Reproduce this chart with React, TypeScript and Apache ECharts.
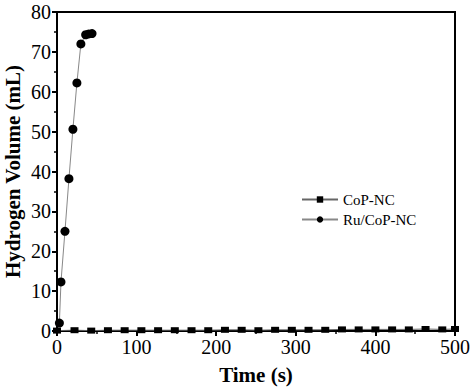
import React, { useEffect, useRef } from "react";
import * as echarts from "echarts";

const ruTime = [3, 5, 10, 15, 20, 25, 30, 36, 40, 44];
const ruVolume = [2.0, 12.3, 25.0, 38.2, 50.6, 62.2, 72.0, 74.3, 74.5, 74.6];

const copTime = [0, 22, 43, 64, 85, 106, 127, 148, 169, 190, 211, 232, 253, 274, 295, 316, 337, 358, 379, 400, 421, 442, 463, 484, 500];
const copVolume = [0.1, 0.2, 0.1, 0.2, 0.2, 0.2, 0.2, 0.2, 0.2, 0.2, 0.3, 0.3, 0.2, 0.3, 0.3, 0.3, 0.3, 0.4, 0.4, 0.4, 0.4, 0.4, 0.5, 0.4, 0.5];

const xTicks = [0, 100, 200, 300, 400, 500];
const yTicks = [0, 10, 20, 30, 40, 50, 60, 70, 80];

const font = "'Liberation Serif', 'Times New Roman', serif";

export default function App() {
  const ref = useRef<HTMLDivElement>(null);
  useEffect(() => {
    if (!ref.current) return;
    const chart = echarts.init(ref.current, null, { renderer: "svg" });
    chart.setOption({
      animation: false,
      grid: {
        left: 57, right: 19, top: 12, bottom: 60,
        containLabel: false,
        outerBoundsMode: "none",
        show: true, borderColor: "#000", borderWidth: 2, backgroundColor: "transparent",
      },
      legend: {
        orient: "vertical",
        left: 296,
        top: 187,
        itemWidth: 36,
        itemHeight: 8,
        itemGap: 5,
        textStyle: { fontFamily: font, fontSize: 15, color: "#000" },
        data: ["CoP-NC", "Ru/CoP-NC"],
      },
      xAxis: {
        type: "value",
        min: xTicks[0],
        max: xTicks[xTicks.length - 1],
        interval: 100,
        name: "Time (s)",
        nameLocation: "middle",
        nameGap: 33,
        nameTextStyle: { fontFamily: font, fontSize: 21, fontWeight: "bold", color: "#000" },
        axisLine: { show: true, lineStyle: { color: "#000", width: 2 } },
        axisTick: { show: true, inside: false, length: 5, lineStyle: { color: "#000", width: 2 } },
        minorTick: { show: true, splitNumber: 2, length: 3, lineStyle: { color: "#000", width: 1.5 } },
        axisLabel: { fontFamily: font, fontSize: 20, color: "#000", margin: 6 },
        splitLine: { show: false },
      },
      yAxis: {
        type: "value",
        min: yTicks[0],
        max: yTicks[yTicks.length - 1],
        interval: 10,
        name: "Hydrogen Volume (mL)",
        nameLocation: "middle",
        nameGap: 34,
        nameMoveOverlap: false,
        nameTextStyle: { fontFamily: font, fontSize: 21, fontWeight: "bold", color: "#000" },
        axisLine: { show: true, lineStyle: { color: "#000", width: 2 } },
        axisTick: { show: true, inside: false, length: 5, lineStyle: { color: "#000", width: 2 } },
        minorTick: { show: true, splitNumber: 2, length: 3, lineStyle: { color: "#000", width: 1.5 } },
        axisLabel: { fontFamily: font, fontSize: 20, color: "#000", margin: 6 },
        splitLine: { show: false },
      },
      series: [
        {
          name: "CoP-NC",
          type: "line",
          data: copTime.map((t, i) => [t, copVolume[i]]),
          symbol: "rect",
          symbolSize: [8, 6],
          itemStyle: { color: "#000" },
          lineStyle: { color: "#666", width: 1 },
        },
        {
          name: "Ru/CoP-NC",
          type: "line",
          data: ruTime.map((t, i) => [t, ruVolume[i]]),
          symbol: "circle",
          symbolSize: 9,
          itemStyle: { color: "#000" },
          lineStyle: { color: "#888", width: 1 },
        },
      ],
    });
    return () => chart.dispose();
  }, []);
  return <div ref={ref} style={{ width: 474, height: 391, position: "absolute", left: 0, top: 0 }} />;
}
